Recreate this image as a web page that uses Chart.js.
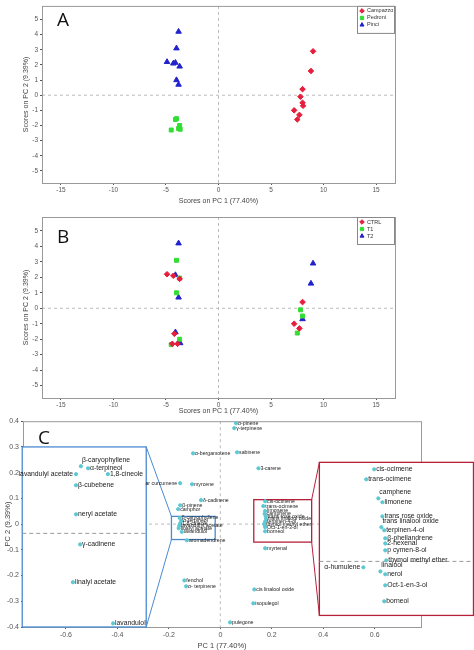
<!DOCTYPE html>
<html>
<head>
<meta charset="utf-8">
<script src="https://cdn.jsdelivr.net/npm/chart.js@4.4.0/dist/chart.umd.min.js"></script>
<style>
  body { margin: 0; background: #fff; }
  #wrap { position: relative; width: 474px; height: 650px; font-family: "Liberation Sans", Arial, sans-serif; }
  canvas { position: absolute; left: 0; }
  .tag { position: absolute; font-family: "Open Sans", sans-serif; font-size: 19px; color: #111; }
</style>
</head>
<body>
<div id="wrap">
  <canvas id="chartA" width="474" height="205" style="top:0"></canvas>
  <canvas id="chartB" width="474" height="210" style="top:205px"></canvas>
  <canvas id="chartC" width="474" height="235" style="top:415px"></canvas>
  <div class="tag" style="left:57px;top:6px">A</div>
  <div class="tag" style="left:57px;top:223px">B</div>
  <div class="tag" style="left:38px;top:424px">C</div>
</div>
<script>
// ---- data: panels A and B (scores) ----
const scoreTicksX = [-15, -10, -5, 0, 5, 10, 15];
const scoreTicksY = [-5, -4, -3, -2, -1, 0, 1, 2, 3, 4, 5];

const campazzo = [[9.0,2.9],[8.8,1.6],[8.0,0.4],[7.8,-0.1],[8.0,-0.5],[8.05,-0.7],[7.2,-1.0],[7.7,-1.3],[7.5,-1.6]];
const pedroni = [[-4.1,-1.6],[-4.0,-1.55],[-4.5,-2.3],[-3.8,-2.2],[-3.7,-2.0],[-3.65,-2.25]];
const pinci = [[-3.8,4.2],[-4.0,3.1],[-4.9,2.2],[-4.3,2.1],[-4.1,2.15],[-3.7,1.9],[-4.0,1.0],[-3.8,0.7]];

const ctrl = [[-4.9,2.2],[-4.3,2.1],[-3.7,1.9],[8.0,0.4],[7.2,-1.0],[7.7,-1.3],[-4.2,-1.65],[-4.4,-2.3],[-3.9,-2.3]];
const t1 = [[-4.0,3.1],[-3.7,1.95],[-4.0,1.0],[7.8,-0.1],[8.0,-0.5],[7.5,-1.6],[-3.7,-2.0],[-4.5,-2.35]];
const t2 = [[-3.8,4.2],[-4.1,2.15],[-3.8,0.7],[9.0,2.9],[8.8,1.6],[8.0,-0.7],[-4.1,-1.55],[-3.8,-2.2],[-3.65,-2.25]];

// ---- data: panel C (loadings) ----
const loadTicksX = [-0.6, -0.4, -0.2, 0, 0.2, 0.4, 0.6];
const loadTicksY = [-0.4, -0.3, -0.2, -0.1, 0, 0.1, 0.2, 0.3, 0.4];

const loadNames = ["α-pinene","γ-terpinene","sabinene","α-bergamotene","3-carene","ar curcumene","myrcene","δ-cadinene","β-pinene","camphor","aromadendrene","myrtenal","fenchol","α- terpinene","cis linalool oxide","isopulegol","pulegone",
  "β-caryophyllene","α-terpineol","1,8-cineole","lavandulyl acetate","linalyl acetate","lavandulol",
  "cis-ocimene","trans-ocimene","limonene","camphene","trans rose oxide","trans linalool oxide","terpinen-4-ol","thymol methyl ether","Oct-1-en-3-ol","borneol"];
const loadX = [0.061,0.054,0.065,-0.106,0.148,-0.156,-0.11,-0.075,-0.156,-0.164,-0.13,0.174,-0.14,-0.133,0.132,0.128,0.038,
  -0.158,-0.152,-0.156,-0.16,-0.162,-0.15,
  0.174,0.167,0.174,0.172,0.176,0.178,0.174,0.17,0.174,0.174];
const loadY = [0.392,0.373,0.279,0.275,0.217,0.159,0.155,0.093,0.073,0.058,-0.063,-0.094,-0.219,-0.242,-0.254,-0.308,-0.382,
  0.024,0.012,0.003,-0.006,-0.016,-0.03,
  0.089,0.07,0.051,0.04,0.03,0.02,0.01,0.0,-0.012,-0.028];

// blue inset (magnified left cluster)
const blueNames = ["β-caryophyllene","α-terpineol","1,8-cineole","lavandulyl acetate","β-cubebene","neryl acetate","γ-cadinene","linalyl acetate","lavandulol"];
const blueX = [-0.542,-0.514,-0.437,-0.561,-0.561,-0.561,-0.545,-0.573,-0.417];
const blueY = [0.225,0.217,0.194,0.194,0.151,0.038,-0.079,-0.226,-0.386];

// red inset (magnified right cluster)
const redNames = ["cis-ocimene","trans-ocimene","camphene","limonene","trans rose oxide","trans linalool oxide","terpinen-4-ol","β-phellandrene","2-hexenal","p cymen-8-ol","thymol methyl ether","α-humulene","linalool","nerol","Oct-1-en-3-ol","borneol"];
const redX = [0.598,0.567,0.614,0.63,0.63,0.626,0.637,0.641,0.641,0.641,0.645,0.556,0.622,0.641,0.641,0.637];
const redY = [0.213,0.174,0.1,0.085,0.03,-0.012,-0.024,-0.055,-0.075,-0.102,-0.141,-0.168,-0.184,-0.195,-0.238,-0.3];

// label placement exceptions (default: right of point)
const labelLeft = new Set(["ar curcumene","lavandulyl acetate","α-humulene"]);
const labelUp = new Set(["β-caryophyllene","camphene","trans linalool oxide","linalool"]);

const RED = "#e61e3c", GREEN = "#33dd33", BLUE = "#2222cc", CYAN = "#5cc8d2";
const AXIS = "#555";
const FONT = "'Liberation Sans', Arial, sans-serif";

const pts = arr => arr.map(p => ({ x: p[0], y: p[1] }));
const zip = (xs, ys) => xs.map((x, i) => ({ x, y: ys[i] }));

function fixedTicks(list) {
  return scale => { scale.ticks = list.map(v => ({ value: v })); };
}

// frame + dashed zero lines
const framePlugin = {
  id: "frame",
  beforeDatasetsDraw(chart) {
    const { ctx, chartArea: a, scales } = chart;
    ctx.save();
    ctx.strokeStyle = "#bbb";
    ctx.lineWidth = 1;
    ctx.setLineDash([3, 3]);
    const x0 = scales.x.getPixelForValue(0), y0 = scales.y.getPixelForValue(0);
    ctx.beginPath();
    ctx.moveTo(x0, a.top); ctx.lineTo(x0, a.bottom);
    ctx.moveTo(a.left, y0); ctx.lineTo(a.right, y0);
    ctx.stroke();
    ctx.setLineDash([]);
    ctx.strokeStyle = "#999";
    ctx.strokeRect(a.left + 0.5, a.top + 0.5, a.width, a.height);
    ctx.restore();
  }
};

// boxed legend inside the top-right corner
const boxLegend = {
  id: "boxLegend",
  afterDraw(chart) {
    const { ctx, chartArea: a } = chart;
    const ds = chart.data.datasets;
    const w = 38, h = 7 + ds.length * 7, x = a.right - w, y = a.top;
    ctx.save();
    ctx.fillStyle = "#fff";
    ctx.fillRect(x, y, w, h);
    ctx.strokeStyle = "#888";
    ctx.strokeRect(x + 0.5, y + 0.5, w - 1, h - 1);
    ctx.font = "5.5px " + FONT;
    ctx.textBaseline = "middle";
    ds.forEach((d, i) => {
      const cy = y + 5 + i * 7;
      ctx.fillStyle = d.backgroundColor;
      ctx.strokeStyle = d.backgroundColor;
      Chart.helpers.drawPoint(ctx, { pointStyle: d.pointStyle, radius: 2.3, borderWidth: 1 }, x + 5, cy);
      ctx.fillStyle = "#333";
      ctx.fillText(d.label, x + 10, cy);
    });
    ctx.restore();
  }
};

function scoreChart(id, sets, padTop, xHeight) {
  return new Chart(document.getElementById(id), {
    type: "scatter",
    data: {
      datasets: sets.map(s => ({
        label: s.label, data: pts(s.data), pointStyle: s.style,
        backgroundColor: s.color, borderColor: s.color,
        pointRadius: s.style === "triangle" ? 3.2 : 2.8, borderWidth: 1
      }))
    },
    options: {
      responsive: false, animation: false, devicePixelRatio: 1,
      layout: { padding: { left: 22, right: 79, top: padTop, bottom: 0 } },
      plugins: { legend: { display: false }, tooltip: { enabled: false } },
      scales: {
        x: {
          type: "linear", min: -16.8, max: 16.8,
          afterBuildTicks: fixedTicks(scoreTicksX),
          afterFit: s => { s.height = xHeight; },
          grid: { drawOnChartArea: false, tickLength: 2, color: AXIS },
          border: { display: false },
          ticks: { font: { size: 6.5, family: FONT }, color: AXIS, padding: 1, maxRotation: 0 },
          title: { display: true, text: "Scores on PC 1 (77.40%)", font: { size: 7, family: FONT }, color: "#444", padding: 0 }
        },
        y: {
          type: "linear", min: -5.8, max: 5.9,
          afterBuildTicks: fixedTicks(scoreTicksY),
          afterFit: s => { s.width = 20; },
          grid: { drawOnChartArea: false, tickLength: 2, color: AXIS },
          border: { display: false },
          ticks: { font: { size: 6.5, family: FONT }, color: AXIS, padding: 2 },
          title: { display: true, text: "Scores on PC 2 (9.39%)", font: { size: 7, family: FONT }, color: "#444", padding: 0 }
        }
      }
    },
    plugins: [framePlugin, boxLegend]
  });
}

scoreChart("chartA", [
  { label: "Campazzo", data: campazzo, color: RED, style: "rectRot" },
  { label: "Pedroni", data: pedroni, color: GREEN, style: "rect" },
  { label: "Pinci", data: pinci, color: BLUE, style: "triangle" }
], 3, 22);

scoreChart("chartB", [
  { label: "CTRL", data: ctrl, color: RED, style: "rectRot" },
  { label: "T1", data: t1, color: GREEN, style: "rect" },
  { label: "T2", data: t2, color: BLUE, style: "triangle" }
], 12, 17);

// ---- panel C: loadings with two magnified insets ----
const insetPlugin = {
  id: "insets",
  beforeDatasetsDraw(chart) {
    const { ctx } = chart;
    const sx = chart.scales.x, sy = chart.scales.y;
    const X = v => sx.getPixelForValue(v), Y = v => sy.getPixelForValue(v);
    const box = (x1, y1, x2, y2) => [X(x1), Y(y1), X(x2), Y(y2)];
    ctx.save();
    const bs = box(-0.19, 0.03, -0.02, -0.06), bi = box(-0.77, 0.3, -0.288, -0.4);
    const rs = box(0.13, 0.095, 0.355, -0.07), ri = box(0.385, 0.24, 0.984, -0.355);
    const draw = (s, i, color, fromRight) => {
      ctx.strokeStyle = color;
      ctx.lineWidth = 1.3;
      ctx.fillStyle = "#fff";
      ctx.fillRect(i[0], i[1], i[2] - i[0], i[3] - i[1]);
      ctx.strokeRect(i[0], i[1], i[2] - i[0], i[3] - i[1]);
      ctx.strokeRect(s[0], s[1], s[2] - s[0], s[3] - s[1]);
      ctx.lineWidth = 1;
      ctx.beginPath();
      if (fromRight) {
        ctx.moveTo(s[2], s[1]); ctx.lineTo(i[0], i[1]);
        ctx.moveTo(s[2], s[3]); ctx.lineTo(i[0], i[3]);
      } else {
        ctx.moveTo(i[2], i[1]); ctx.lineTo(s[0], s[1]);
        ctx.moveTo(i[2], i[3]); ctx.lineTo(s[0], s[3]);
      }
      ctx.stroke();
    };
    draw(bs, bi, "#4a8ad0", false);
    draw(rs, ri, "#b8203a", true);
    ctx.strokeStyle = "#999";
    ctx.setLineDash([4, 3]);
    ctx.beginPath();
    ctx.moveTo(bi[0], Y(-0.036)); ctx.lineTo(bi[2], Y(-0.036));
    ctx.moveTo(ri[0], Y(-0.145)); ctx.lineTo(ri[2], Y(-0.145));
    ctx.stroke();
    ctx.restore();
  },
  afterDatasetsDraw(chart) {
    const { ctx } = chart;
    ctx.save();
    ctx.textBaseline = "middle";
    chart.data.datasets.forEach((d, di) => {
      const meta = chart.getDatasetMeta(di);
      const inset = di > 0;
      ctx.font = (inset ? 6.8 : 5.2) + "px " + FONT;
      ctx.fillStyle = "#222";
      meta.data.forEach((p, i) => {
        const name = d.names[i];
        if (labelLeft.has(name) && (inset || name === "ar curcumene")) {
          ctx.textAlign = "right"; ctx.fillText(name, p.x - 3, p.y);
        } else if (labelUp.has(name) && inset) {
          ctx.textAlign = "left"; ctx.fillText(name, p.x + 1, p.y - 6);
        } else {
          ctx.textAlign = "left"; ctx.fillText(name, p.x + 2, p.y);
        }
      });
    });
    ctx.restore();
  }
};

new Chart(document.getElementById("chartC"), {
  type: "scatter",
  data: {
    datasets: [
      { names: loadNames, data: zip(loadX, loadY) },
      { names: blueNames, data: zip(blueX, blueY) },
      { names: redNames, data: zip(redX, redY) }
    ].map(d => Object.assign(d, { backgroundColor: CYAN, borderColor: CYAN, pointRadius: 1.6, clip: false }))
  },
  options: {
    responsive: false, animation: false, devicePixelRatio: 1,
    layout: { padding: { left: 3, right: 53, top: 6, bottom: 0 } },
    plugins: { legend: { display: false }, tooltip: { enabled: false } },
    scales: {
      x: {
        type: "linear", min: -0.767, max: 0.78,
        afterBuildTicks: fixedTicks(loadTicksX),
        afterFit: s => { s.height = 23; },
        grid: { drawOnChartArea: false, tickLength: 2, color: AXIS },
        border: { display: false },
        ticks: { font: { size: 7, family: FONT }, color: AXIS, padding: 2, maxRotation: 0,
          callback: v => v === 0 ? "0" : Number(v).toFixed(1) },
        title: { display: true, text: "PC 1 (77.40%)", font: { size: 7.5, family: FONT }, color: "#444", padding: 0 }
      },
      y: {
        type: "linear", min: -0.4, max: 0.4,
        afterBuildTicks: fixedTicks(loadTicksY),
        afterFit: s => { s.width = 20; },
        grid: { drawOnChartArea: false, tickLength: 2, color: AXIS },
        border: { display: false },
        ticks: { font: { size: 7, family: FONT }, color: AXIS, padding: 2,
          callback: v => v === 0 ? "0" : Number(v).toFixed(1) },
        title: { display: true, text: "PC 2 (9.39%)", font: { size: 7.5, family: FONT }, color: "#444", padding: 0 }
      }
    }
  },
  plugins: [framePlugin, insetPlugin]
});
</script>
</body>
</html>
